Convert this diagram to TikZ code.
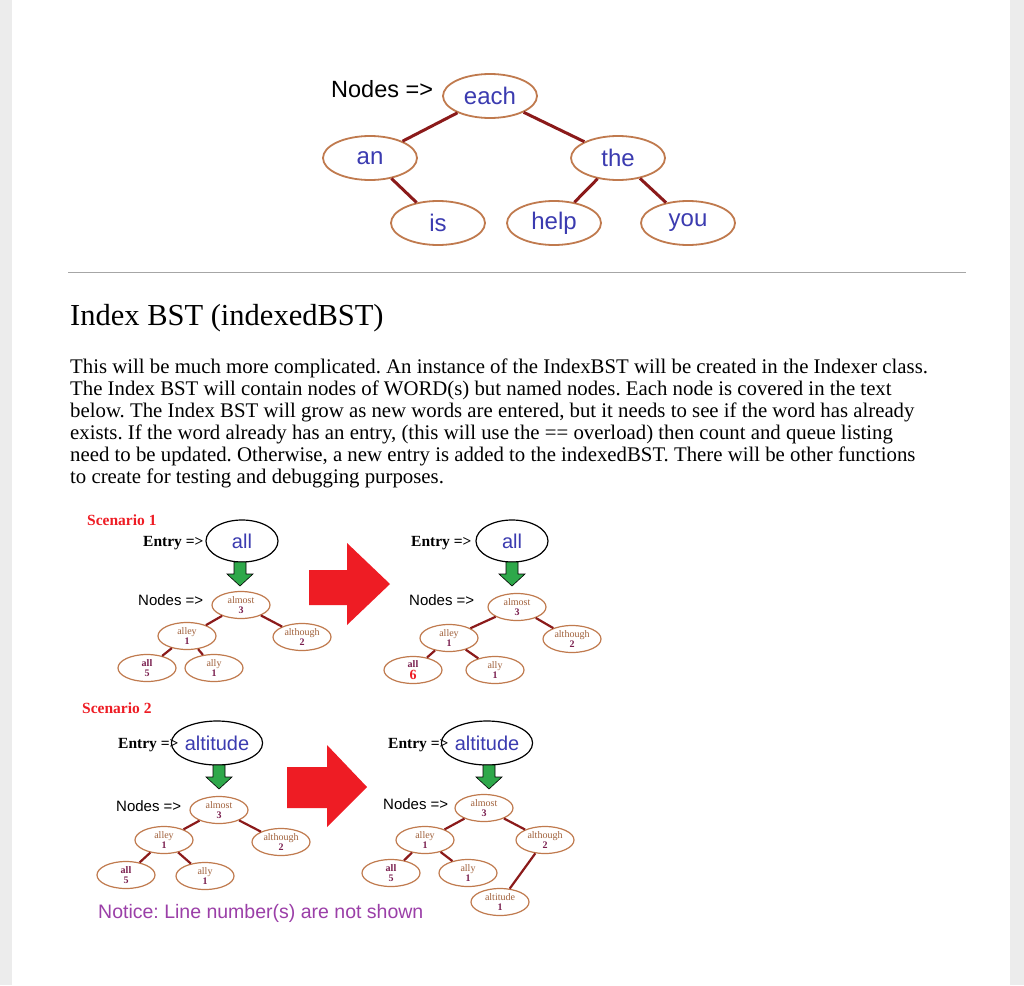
\documentclass[tikz,border=0pt]{standalone}
\usepackage{fontspec}
\usetikzlibrary{shapes.geometric}
\setmainfont{Liberation Serif}
\setsansfont{Liberation Sans}
\begin{document}
\frenchspacing
\begin{tikzpicture}[x=1pt,y=-1pt,
 tn/.style={ellipse,draw=tbrown,line width=1.8pt,minimum width=94pt,minimum height=44pt,inner sep=0pt,font=\sffamily\fontsize{24}{24}\selectfont,text=tblue},
 en/.style={ellipse,draw=black,line width=1.2pt,minimum width=72pt,minimum height=42pt,inner sep=0pt,font=\sffamily\fontsize{20}{20}\selectfont,text=tblue},
 sn/.style={ellipse,draw=tbrown,line width=1.2pt,minimum width=58pt,minimum height=27pt,inner sep=0pt,align=center,font=\fontsize{10}{9.5}\selectfont},
 ed/.style={draw=edred,line width=3pt},
 sed/.style={draw=edred,line width=2.2pt},
 garr/.style={fill=agreen,draw=black,line width=0.6pt},
 rarr/.style={fill=ared,draw=none},
 lbl/.style={anchor=base west,inner sep=0pt},
 body/.style={lbl,font=\fontsize{20.8}{20}\selectfont},
 ent/.style={lbl,font=\bfseries\fontsize{15.5}{15}\selectfont},
 nds/.style={lbl,font=\sffamily\fontsize{15}{15}\selectfont}
]
\definecolor{tbrown}{HTML}{C07A4E}
\definecolor{tblue}{HTML}{3B3BB0}
\definecolor{edred}{HTML}{8B1A1A}
\definecolor{agreen}{HTML}{2EA84A}
\definecolor{ared}{HTML}{EE1C24}
\definecolor{wbrown}{HTML}{A0603A}
\definecolor{npurp}{HTML}{7A1F4F}
\definecolor{ntc}{HTML}{9B3FA8}
\newcommand\ww[1]{\textcolor{wbrown}{#1}}
\newcommand\nn[1]{\textcolor{npurp}{\textbf{#1}}}
\useasboundingbox (0,0) rectangle (1024,985);
\fill[gray!15] (0,0) rectangle (1024,985);
\fill[white] (12,0) rectangle (1010,985);
% top tree
\node[lbl,font=\sffamily\fontsize{23.5}{23}\selectfont] (nl) at (331,97) {Nodes =>};
\node[tn] (each) at (490,96) {each};
\node[tn] (an) at (370,158) {an};
\node[tn] (the) at (618,158) {the};
\node[tn] (is) at (438,223) {is};
\node[tn] (help) at (554,223) {help};
\node[tn] (you) at (688,223) {you};
\draw[ed] (each) -- (an); \draw[ed] (each) -- (the);
\draw[ed] (an) -- (is); \draw[ed] (the) -- (help); \draw[ed] (the) -- (you);
\draw[gray!70,line width=1pt] (68,272) -- (966,272);
% text
\node[lbl,font=\fontsize{30.5}{30}\selectfont] (h) at (70,325) {Index BST (indexedBST)};
\node[body] (p1) at (70,373) {This will be much more complicated. An instance of the IndexBST will be created in the Indexer class.};
\node[body] (p2) at (70,395) {The Index BST will contain nodes of WORD(s) but named nodes. Each node is covered in the text};
\node[body] (p3) at (70,417) {below. The Index BST will grow as new words are entered, but it needs to see if the word has already};
\node[body] (p4) at (70,439) {exists. If the word already has an entry, (this will use the == overload) then count and queue listing};
\node[body] (p5) at (70,461) {need to be updated. Otherwise, a new entry is added to the indexedBST. There will be other functions};
\node[body] (p6) at (70,483) {to create for testing and debugging purposes.};
% scenario 1
\node[ent,text=ared] (s1) at (87,525) {Scenario 1};
\node[ent] (e1) at (143,546) {Entry =>};
\node[en] (ea) at (242,541) {all};
\draw[garr,shift={(240,574)}] (-6,-12)--(6,-12)--(6,0)--(13,0)--(0,12)--(-13,0)--(-6,0)--cycle;
\node[nds] (n1) at (138,605) {Nodes =>};
\node[sn] (a1) at (241,605) {\ww{almost}\\\nn{3}};
\node[sn] (b1) at (187,636) {\ww{alley}\\\nn{1}};
\node[sn] (c1) at (302,637) {\ww{although}\\\nn{2}};
\node[sn] (d1) at (147,668) {\nn{all}\\\nn{5}};
\node[sn] (f1) at (214,668) {\ww{ally}\\\nn{1}};
\draw[sed] (a1)--(b1); \draw[sed] (a1)--(c1); \draw[sed] (b1)--(d1); \draw[sed] (b1)--(f1);
\draw[rarr] (309,570)--(347,570)--(347,543)--(390,584)--(347,625)--(347,605)--(309,605)--cycle;
\node[ent] (e2) at (411,546) {Entry =>};
\node[en] (eb) at (512,541) {all};
\draw[garr,shift={(512,574)}] (-6,-12)--(6,-12)--(6,0)--(13,0)--(0,12)--(-13,0)--(-6,0)--cycle;
\node[nds] (n2) at (409,605) {Nodes =>};
\node[sn] (a2) at (517,607) {\ww{almost}\\\nn{3}};
\node[sn] (b2) at (449,638) {\ww{alley}\\\nn{1}};
\node[sn] (c2) at (572,639) {\ww{although}\\\nn{2}};
\node[sn,font=\fontsize{10}{12}\selectfont] (d2) at (413,670) {\nn{all}\\\textcolor{ared}{\textbf{\fontsize{14}{12}\selectfont 6}}};
\node[sn] (f2) at (495,670) {\ww{ally}\\\nn{1}};
\draw[sed] (a2)--(b2); \draw[sed] (a2)--(c2); \draw[sed] (b2)--(d2); \draw[sed] (b2)--(f2);
% scenario 2
\node[ent,text=ared] (s2) at (82,713) {Scenario 2};
\node[ent] (e3) at (118,748) {Entry =>};
\node[en,minimum width=70pt,minimum height=44pt] (ec) at (217,743) {altitude};
\draw[garr,shift={(219,777)}] (-6,-12)--(6,-12)--(6,0)--(13,0)--(0,12)--(-13,0)--(-6,0)--cycle;
\node[nds] (n3) at (116,811) {Nodes =>};
\node[sn] (a3) at (219,810) {\ww{almost}\\\nn{3}};
\node[sn] (b3) at (164,840) {\ww{alley}\\\nn{1}};
\node[sn] (c3) at (281,842) {\ww{although}\\\nn{2}};
\node[sn] (d3) at (126,875) {\nn{all}\\\nn{5}};
\node[sn] (f3) at (205,876) {\ww{ally}\\\nn{1}};
\draw[sed] (a3)--(b3); \draw[sed] (a3)--(c3); \draw[sed] (b3)--(d3); \draw[sed] (b3)--(f3);
\draw[rarr] (287,767)--(327,767)--(327,745)--(367,787)--(327,827)--(327,808)--(287,808)--cycle;
\node[ent] (e4) at (388,748) {Entry =>};
\node[en,minimum width=70pt,minimum height=44pt] (ed) at (487,743) {altitude};
\draw[garr,shift={(489,777)}] (-6,-12)--(6,-12)--(6,0)--(13,0)--(0,12)--(-13,0)--(-6,0)--cycle;
\node[nds] (n4) at (383,809) {Nodes =>};
\node[sn] (a4) at (484,808) {\ww{almost}\\\nn{3}};
\node[sn] (b4) at (425,840) {\ww{alley}\\\nn{1}};
\node[sn] (c4) at (545,840) {\ww{although}\\\nn{2}};
\node[sn] (d4) at (391,873) {\nn{all}\\\nn{5}};
\node[sn] (f4) at (468,873) {\ww{ally}\\\nn{1}};
\node[sn] (g4) at (500,902) {\ww{altitude}\\\nn{1}};
\draw[sed] (a4)--(b4); \draw[sed] (a4)--(c4); \draw[sed] (b4)--(d4); \draw[sed] (b4)--(f4); \draw[sed] (c4)--(g4);
\node[lbl,font=\sffamily\fontsize{19.5}{19}\selectfont,text=ntc] (nt) at (98,918) {Notice: Line number(s) are not shown};
\end{tikzpicture}
\end{document}
